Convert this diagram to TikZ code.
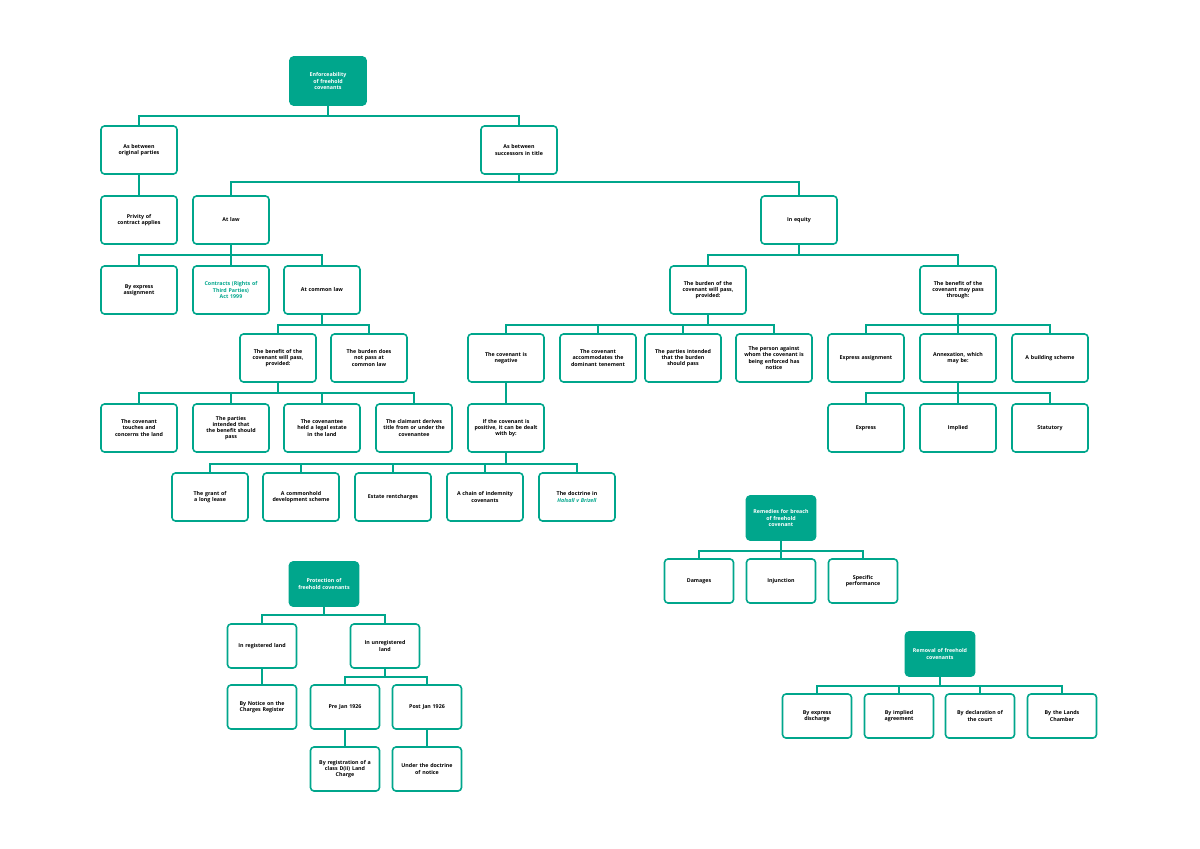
\documentclass[tikz,border=0pt]{standalone}
\usepackage{fontspec}
\setmainfont{Open Sans}
\definecolor{teal1}{HTML}{00A68C}
\begin{document}
\hyphenpenalty=10000 \exhyphenpenalty=10000
\begin{tikzpicture}[x=1pt,y=-1pt,
  box/.style={draw=teal1,line width=1.6pt,rounded corners=3.5pt,fill=white,
    minimum width=76pt,minimum height=48pt,text width=68pt,align=center,
    font=\fontsize{5.3}{6.2}\selectfont\bfseries,inner sep=2pt},
  sbox/.style={box,minimum width=69pt,minimum height=44pt,text width=62pt},
  head/.style={box,fill=teal1,text=white},
  shead/.style={sbox,fill=teal1,text=white},
  tl/.style={text=teal1},
  conn/.style={draw=teal1,line width=1.6pt}]
\useasboundingbox (0,0) rectangle (1200,849);
% main tree
\node[head] (root) at (328,81) {Enforceability\\of freehold\\covenants};
\node[box] (orig) at (139,150) {As between\\original parties};
\node[box] (succ) at (519,150) {As between\\successors in title};
\node[box] (priv) at (139,220) {Privity of\\contract applies};
\node[box] (law) at (231,220) {At law};
\node[box] (eq) at (799,220) {In equity};
\node[box] (expr) at (139,290) {By express\\assignment};
\node[box,tl] (contr) at (231,290) {Contracts (Rights of\\Third Parties)\\Act 1999};
\node[box] (comm) at (322,290) {At common law};
\node[box] (burd) at (708,290) {The burden of the\\covenant will pass,\\provided:};
\node[box] (bene) at (958,290) {The benefit of the\\covenant may pass\\through:};
\node[box] (cben) at (278,358) {The benefit of the\\covenant will pass,\\provided:};
\node[box] (cbur) at (369,358) {The burden does\\not pass at\\common law};
\node[box] (neg) at (506,358) {The covenant is\\negative};
\node[box] (acc) at (598,358) {The covenant\\accommodates the\\dominant tenement};
\node[box] (pint) at (683,358) {The parties intended\\that the burden\\should pass};
\node[box] (pers) at (774,358) {The person against\\whom the covenant is\\being enforced has\\notice};
\node[box] (exas) at (866,358) {Express assignment};
\node[box] (anne) at (958,358) {Annexation, which\\may be:};
\node[box] (buil) at (1050,358) {A building scheme};
\node[box] (t1) at (139,428) {The covenant\\touches and\\concerns the land};
\node[box] (t2) at (231,428) {The parties\\intended that\\the benefit should\\pass};
\node[box] (t3) at (322,428) {The covenantee\\held a legal estate\\in the land};
\node[box] (t4) at (414,428) {The claimant derives\\title from or under the\\covenantee};
\node[box] (pos) at (506,428) {If the covenant is\\positive, it can be dealt\\with by:};
\node[box] (ax1) at (866,428) {Express};
\node[box] (ax2) at (958,428) {Implied};
\node[box] (ax3) at (1050,428) {Statutory};
\node[box] (p1) at (210,497) {The grant of\\a long lease};
\node[box] (p2) at (301,497) {A commonhold\\development scheme};
\node[box] (p3) at (393,497) {Estate rentcharges};
\node[box] (p4) at (485,497) {A chain of indemnity\\covenants};
\node[box] (p5) at (577,497) {The doctrine in\\\textcolor{teal1}{\itshape Halsall v Brizell}};
% buses
\coordinate (b1) at (0,116);
\coordinate (b2) at (0,182);
\coordinate (b3) at (0,255);
\coordinate (b4) at (0,325);
\coordinate (b5) at (0,393);
\coordinate (b6) at (0,464);
\foreach \p/\c/\b in {root/orig/b1,root/succ/b1,succ/law/b2,succ/eq/b2,
  law/expr/b3,law/contr/b3,law/comm/b3,eq/burd/b3,eq/bene/b3,
  comm/cben/b4,comm/cbur/b4,burd/neg/b4,burd/acc/b4,burd/pint/b4,burd/pers/b4,
  bene/exas/b4,bene/anne/b4,bene/buil/b4,
  cben/t1/b5,cben/t2/b5,cben/t3/b5,cben/t4/b5,anne/ax1/b5,anne/ax2/b5,anne/ax3/b5,
  pos/p1/b6,pos/p2/b6,pos/p3/b6,pos/p4/b6,pos/p5/b6}
  \draw[conn] (\p.south) -- (\p.south |- \b) -| (\c.north);
\draw[conn] (orig.south) -- (priv.north);
\draw[conn] (neg.south) -- (pos.north);
% remedies
\node[shead] (rem) at (781,518) {Remedies for breach\\of freehold\\covenant};
\node[sbox] (r1) at (699,581) {Damages};
\node[sbox] (r2) at (781,581) {Injunction};
\node[sbox] (r3) at (863,581) {Specific\\performance};
\coordinate (b7) at (0,551);
\foreach \c in {r1,r2,r3} \draw[conn] (rem.south) -- (rem.south |- b7) -| (\c.north);
% removal
\node[shead] (rmv) at (940,654) {Removal of freehold\\covenants};
\node[sbox] (m1) at (817,716) {By express\\discharge};
\node[sbox] (m2) at (899,716) {By implied\\agreement};
\node[sbox] (m3) at (980,716) {By declaration of\\the court};
\node[sbox] (m4) at (1062,716) {By the Lands\\Chamber};
\coordinate (b8) at (0,686);
\foreach \c in {m1,m2,m3,m4} \draw[conn] (rmv.south) -- (rmv.south |- b8) -| (\c.north);
% protection
\node[shead] (pro) at (324,584) {Protection of\\freehold covenants};
\node[sbox] (reg) at (262,646) {In registered land};
\node[sbox] (unr) at (385,646) {In unregistered\\land};
\node[sbox] (not) at (262,707) {By Notice on the\\Charges Register};
\node[sbox] (pre) at (345,707) {Pre Jan 1926};
\node[sbox] (post) at (427,707) {Post Jan 1926};
\node[sbox] (d2) at (345,769) {By registration of a\\class D(ii) Land\\Charge};
\node[sbox] (doc) at (427,769) {Under the doctrine\\of notice};
\coordinate (b9) at (0,615);
\coordinate (b10) at (0,677);
\foreach \c in {reg,unr} \draw[conn] (pro.south) -- (pro.south |- b9) -| (\c.north);
\foreach \c in {pre,post} \draw[conn] (unr.south) -- (unr.south |- b10) -| (\c.north);
\draw[conn] (reg.south) -- (not.north);
\draw[conn] (pre.south) -- (d2.north);
\draw[conn] (post.south) -- (doc.north);
\end{tikzpicture}
\end{document}
